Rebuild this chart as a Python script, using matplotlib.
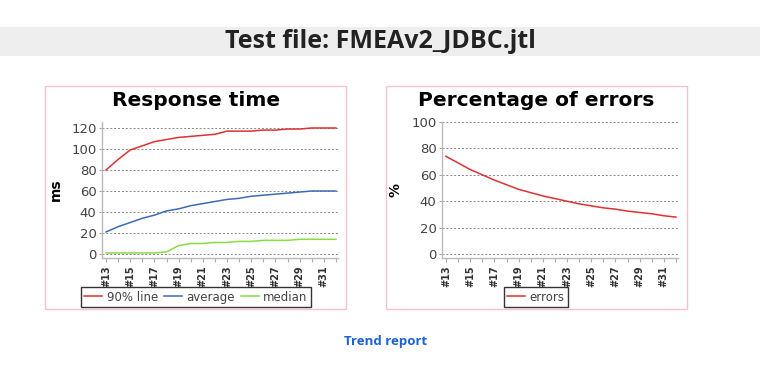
import matplotlib
matplotlib.use("Agg")
import matplotlib.pyplot as plt
from matplotlib.patches import Rectangle

categories = ["#13", "#14", "#15", "#16", "#17", "#18", "#19", "#20", "#21", "#22",
              "#23", "#24", "#25", "#26", "#27", "#28", "#29", "#30", "#31", "#32"]
line90 = [80, 90, 99, 103, 107, 109, 111, 112, 113, 114, 117, 117, 117, 118, 118, 119, 119, 120, 120, 120]
average = [21, 26, 30, 34, 37, 41, 43, 46, 48, 50, 52, 53, 55, 56, 57, 58, 59, 60, 60, 60]
median = [1, 1, 1, 1, 1, 2, 8, 10, 10, 11, 11, 12, 12, 13, 13, 13, 14, 14, 14, 14]
errors = [74, 69, 64, 60, 56, 52.5, 49, 46.5, 44, 42, 40, 38, 36.5, 35, 34, 32.5, 31.5, 30.5, 29, 28]

W, H = 760, 378
fig = plt.figure(figsize=(W / 100, H / 100), dpi=100)

def fx(px):
    return px / W

def fy(py):
    return 1 - py / H

# header band
fig.patches.append(Rectangle((0, fy(56)), 1, (56 - 27) / H, transform=fig.transFigure,
                             facecolor="#eeeeee", edgecolor="none", zorder=0))
fig.text(0.5, fy(42), "Test file: FMEAv2_JDBC.jtl", ha="center", va="center",
         fontsize=18, fontweight="bold", family="Open Sans", color="#222222")
fig.text(fx(386), fy(342), "Trend report", ha="center", va="center",
         fontsize=9.5, fontweight="bold", family="Open Sans", color="#1a62d8")

# panel borders
for x0 in (45, 386):
    fig.patches.append(Rectangle((fx(x0), fy(309)), 301 / W, (309 - 86) / H,
                                 transform=fig.transFigure, facecolor="none",
                                 edgecolor="#f5c4cb", linewidth=1.0, zorder=0))

x = list(range(len(categories)))

def make_ax(left_px, ylim, yticks):
    ax = fig.add_axes([fx(left_px), fy(258), 236 / W, (258 - 122) / H])
    ax.set_xlim(-0.33, 19.17)
    ax.set_ylim(*ylim)
    ax.set_yticks(yticks)
    ax.set_xticks(x)
    ax.set_xticklabels([c if i % 2 == 0 else "" for i, c in enumerate(categories)],
                       rotation=90, fontsize=7, fontweight="bold", color="#333333")
    ax.tick_params(axis="x", length=3, color="#aaaaaa", pad=2)
    ax.tick_params(axis="y", length=2, color="#aaaaaa", labelsize=9.5, labelcolor="#444444", pad=2)
    for s in ("top", "right"):
        ax.spines[s].set_visible(False)
    for s in ("left", "bottom"):
        ax.spines[s].set_color("#bbbbbb")
        ax.spines[s].set_linewidth(1)
    ax.grid(axis="y", linestyle=(0, (2, 2)), color="#888888", linewidth=0.7)
    ax.set_axisbelow(True)
    return ax

ax1 = make_ax(102, (-3.8, 125.7), [0, 20, 40, 60, 80, 100, 120])
ax1.plot(x, line90, color="#e03030", lw=1.1, label="90% line")
ax1.plot(x, average, color="#3d6ab8", lw=1.1, label="average")
ax1.plot(x, median, color="#88dd44", lw=1.1, label="median")
ax1.set_ylabel("ms", fontsize=10, fontweight="bold", labelpad=6)
fig.text(fx(196), fy(100), "Response time", ha="center", va="center",
         fontsize=14.5, fontweight="bold")
leg1 = ax1.legend(loc="upper center", bbox_to_anchor=(fx(196), fy(287)),
                  bbox_transform=fig.transFigure, ncol=3, fontsize=8.5, frameon=True,
                  fancybox=False, edgecolor="#000000", handlelength=1.5, handletextpad=0.4,
                  columnspacing=0.5, borderpad=0.3, borderaxespad=0, labelcolor="#444444")
leg1.get_frame().set_linewidth(1.0)

ax2 = make_ax(442, (-3, 100), [0, 20, 40, 60, 80, 100])
ax2.plot(x, errors, color="#e03030", lw=1.1, label="errors")
ax2.set_ylabel("%", fontsize=10, fontweight="bold", labelpad=6)
fig.text(fx(536), fy(100), "Percentage of errors", ha="center", va="center",
         fontsize=14.5, fontweight="bold")
leg2 = ax2.legend(loc="upper center", bbox_to_anchor=(fx(536), fy(287)),
                  bbox_transform=fig.transFigure, ncol=1, fontsize=8.5, frameon=True,
                  fancybox=False, edgecolor="#000000", handlelength=1.5, handletextpad=0.4,
                  borderpad=0.3, borderaxespad=0, labelcolor="#444444")
leg2.get_frame().set_linewidth(1.0)

fig.savefig("out.png", dpi=100)
